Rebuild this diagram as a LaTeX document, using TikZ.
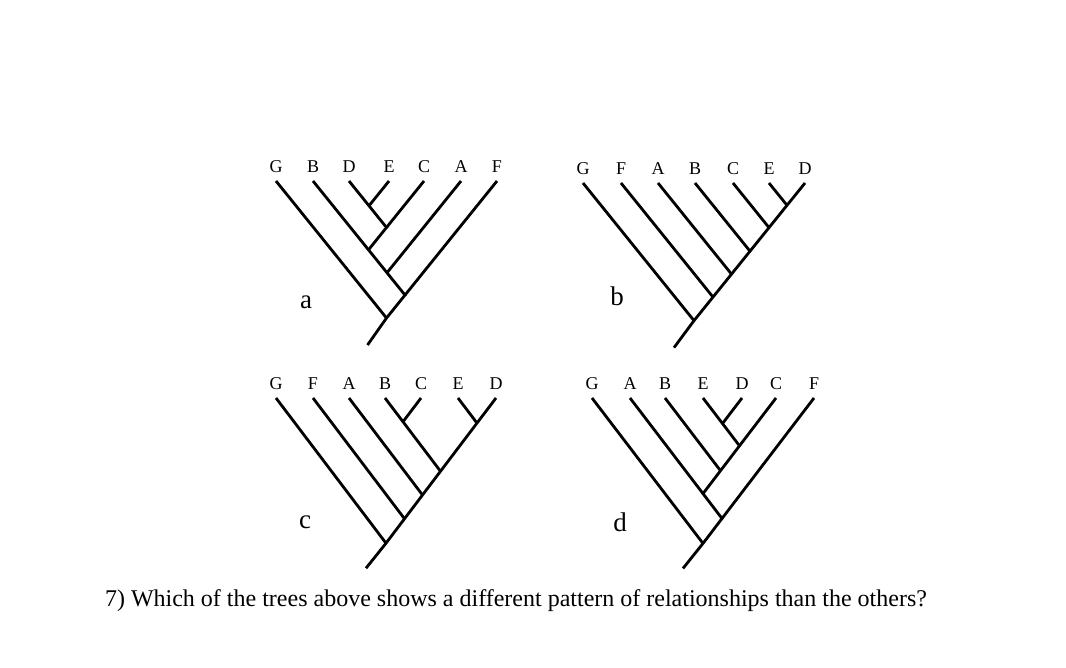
\documentclass[tikz,border=0pt]{standalone}
\usepackage{fontspec}
\setmainfont{Liberation Serif}
\newcommand{\clade}[3]{\coordinate (#1) at ({(#2+#3)/2},{\tipy+(#3-#2)/2*\slope});}
\newcommand{\tips}[2]{\foreach \n/\x in {#2} {\coordinate (#1\n) at (\x,\tipy); \node[leaf] (#1\n l) at (\x,\tipy-14) {\n};}}
\begin{document}
\begin{tikzpicture}[x=1pt,y=-1pt,line width=2.8pt,
    leaf/.style={font=\fontsize{18}{18}\selectfont,inner sep=0pt},
    tag/.style={font=\fontsize{27}{27}\selectfont,inner sep=0pt}]
        \useasboundingbox (0,0) rectangle (1066,668);
        
        % Albero a
        \def\tipy{181}\def\slope{1.24}
        \tips{a}{G/276,B/313,D/349,E/389,C/424,A/461,F/497}
        \clade{aDE}{349}{389} \clade{aDEC}{349}{424} \clade{aB4}{313}{424}
        \clade{aA5}{313}{461} \clade{aF6}{313}{497} \clade{aR}{276}{497}
        \draw (aD) -- (aDE) -- (aDEC) -- (aB4) -- (aA5) -- (aF6) -- (aR) -- ++(-19,27);
        \draw (aE) -- (aDE); \draw (aC) -- (aDEC); \draw (aB) -- (aB4);
        \draw (aA) -- (aA5); \draw (aF) -- (aF6); \draw (aG) -- (aR);
        \node[tag] (atag) at (306,302) {a};
        
        % Albero b
        \def\tipy{183}
        \tips{b}{G/583,F/621,A/658,B/695,C/733,E/769,D/805}
        \clade{bED}{769}{805} \clade{bC5}{733}{805} \clade{bB4}{695}{805}
        \clade{bA3}{658}{805} \clade{bF2}{621}{805} \clade{bR}{583}{805}
        \draw (bD) -- (bED) -- (bC5) -- (bB4) -- (bA3) -- (bF2) -- (bR) -- ++(-20,27);
        \draw (bE) -- (bED); \draw (bC) -- (bC5); \draw (bB) -- (bB4);
        \draw (bA) -- (bA3); \draw (bF) -- (bF2); \draw (bG) -- (bR);
        \node[tag] (btag) at (617,296) {b};
        
        % Albero c
        \def\tipy{398}\def\slope{1.32}
        \tips{c}{G/276,F/313,A/349,B/385,C/421,E/458,D/496}
        \clade{cBC}{385}{421} \clade{cED}{458}{496} \clade{cX}{385}{496}
        \clade{cA3}{349}{496} \clade{cF2}{313}{496} \clade{cR}{276}{496}
        \draw (cD) -- (cED) -- (cX) -- (cA3) -- (cF2) -- (cR) -- ++(-20,25);
        \draw (cE) -- (cED); \draw (cB) -- (cBC) -- (cX); \draw (cC) -- (cBC);
        \draw (cA) -- (cA3); \draw (cF) -- (cF2); \draw (cG) -- (cR);
        \node[tag] (ctag) at (305,522) {c};
        
        % Albero d
        \def\tipy{398}\def\slope{1.31}
        \tips{d}{G/592,A/630,B/665,E/703,D/742,C/776,F/814}
        \clade{dED}{703}{742} \clade{dEDC}{703}{776} \clade{dB4}{665}{776}
        \clade{dA3}{630}{776} \clade{dF2}{630}{814} \clade{dR}{592}{814}
        \draw (dE) -- (dED) -- (dEDC) -- (dB4) -- (dA3) -- (dF2) -- (dR) -- ++(-20,25);
        \draw (dD) -- (dED); \draw (dC) -- (dEDC); \draw (dB) -- (dB4);
        \draw (dA) -- (dA3); \draw (dF) -- (dF2); \draw (dG) -- (dR);
        \node[tag] (dtag) at (620,522) {d};
        
        % Domanda
        \node[font=\fontsize{24}{24}\selectfont,inner sep=0pt] (domanda) at (516,601)
            {7) Which of the trees above shows a different pattern of relationships than the others?};
\end{tikzpicture}
\end{document}
